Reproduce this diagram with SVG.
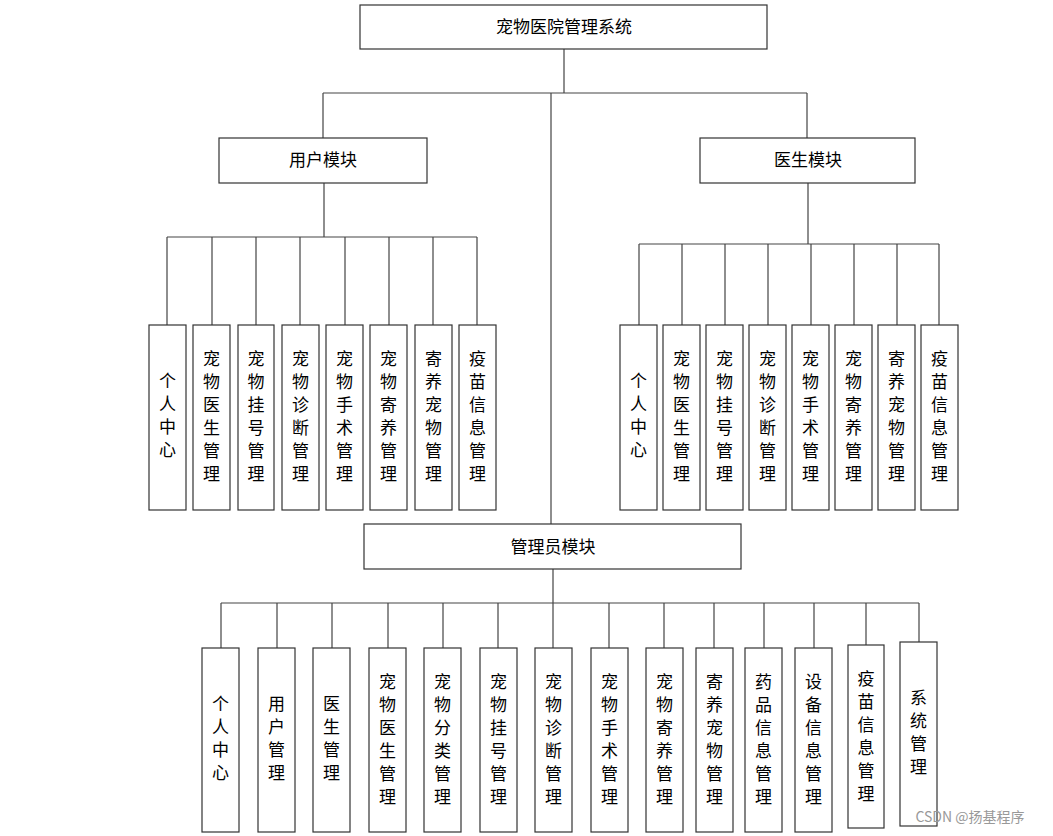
<svg xmlns="http://www.w3.org/2000/svg" width="1053" height="836" viewBox="0 0 1053 836">
<style>
rect{fill:#fff;stroke:#333;stroke-width:1.2}
text{font-family:"Noto Sans CJK SC",sans-serif;font-size:17px;fill:#000;text-anchor:middle}
#c path{fill:none;stroke:#444;stroke-width:1.2}
</style>
<rect x="0" y="0" width="1053" height="836" style="stroke:none"/>
<g id="c"><path d="M564 49V93M323 93H807M323 93V138M807 93V138M551 93V524M324 183V237M167 237H477M167 237V325M212 237V325M256 237V325M300 237V325M345 237V325M389 237V325M433 237V325M477 237V325M808 183V244M639 244H939M639 244V325M682 244V325M725 244V325M768 244V325M811 244V325M854 244V325M897 244V325M939 244V325M553 569V603M221 603H919M221 603V648M277 603V648M332 603V648M388 603V648M443 603V648M498 603V648M553 603V648M609 603V648M664 603V648M714 603V648M764 603V648M814 603V648M866 603V645M919 603V642"/></g>
<g id="root"><rect x="360" y="5" width="407" height="44"/><text x="564" y="33">宠物医院管理系统</text></g>
<g id="user"><rect x="219" y="138" width="208" height="45"/><text x="323" y="166">用户模块</text></g>
<g id="doctor"><rect x="700" y="138" width="215" height="45"/><text x="808" y="166">医生模块</text></g>
<g id="admin"><rect x="364" y="524" width="377" height="45"/><text x="553" y="553">管理员模块</text></g>
<g id="u1"><rect x="149" y="325" width="37" height="185"/><text x="167.5" y="387">个</text><text x="167.5" y="410">人</text><text x="167.5" y="433">中</text><text x="167.5" y="456">心</text></g>
<g id="u2"><rect x="193" y="325" width="37" height="185"/><text x="211.5" y="365">宠</text><text x="211.5" y="388">物</text><text x="211.5" y="411">医</text><text x="211.5" y="434">生</text><text x="211.5" y="457">管</text><text x="211.5" y="480">理</text></g>
<g id="u3"><rect x="238" y="325" width="36" height="185"/><text x="256" y="365">宠</text><text x="256" y="388">物</text><text x="256" y="411">挂</text><text x="256" y="434">号</text><text x="256" y="457">管</text><text x="256" y="480">理</text></g>
<g id="u4"><rect x="282" y="325" width="37" height="185"/><text x="300.5" y="365">宠</text><text x="300.5" y="388">物</text><text x="300.5" y="411">诊</text><text x="300.5" y="434">断</text><text x="300.5" y="457">管</text><text x="300.5" y="480">理</text></g>
<g id="u5"><rect x="326" y="325" width="37" height="185"/><text x="344.5" y="365">宠</text><text x="344.5" y="388">物</text><text x="344.5" y="411">手</text><text x="344.5" y="434">术</text><text x="344.5" y="457">管</text><text x="344.5" y="480">理</text></g>
<g id="u6"><rect x="370" y="325" width="37" height="185"/><text x="388.5" y="365">宠</text><text x="388.5" y="388">物</text><text x="388.5" y="411">寄</text><text x="388.5" y="434">养</text><text x="388.5" y="457">管</text><text x="388.5" y="480">理</text></g>
<g id="u7"><rect x="415" y="325" width="37" height="185"/><text x="433.5" y="365">寄</text><text x="433.5" y="388">养</text><text x="433.5" y="411">宠</text><text x="433.5" y="434">物</text><text x="433.5" y="457">管</text><text x="433.5" y="480">理</text></g>
<g id="u8"><rect x="459" y="325" width="37" height="185"/><text x="477.5" y="365">疫</text><text x="477.5" y="388">苗</text><text x="477.5" y="411">信</text><text x="477.5" y="434">息</text><text x="477.5" y="457">管</text><text x="477.5" y="480">理</text></g>
<g id="d1"><rect x="620" y="325" width="37" height="185"/><text x="638.5" y="387">个</text><text x="638.5" y="410">人</text><text x="638.5" y="433">中</text><text x="638.5" y="456">心</text></g>
<g id="d2"><rect x="663" y="325" width="37" height="185"/><text x="681.5" y="365">宠</text><text x="681.5" y="388">物</text><text x="681.5" y="411">医</text><text x="681.5" y="434">生</text><text x="681.5" y="457">管</text><text x="681.5" y="480">理</text></g>
<g id="d3"><rect x="706" y="325" width="37" height="185"/><text x="724.5" y="365">宠</text><text x="724.5" y="388">物</text><text x="724.5" y="411">挂</text><text x="724.5" y="434">号</text><text x="724.5" y="457">管</text><text x="724.5" y="480">理</text></g>
<g id="d4"><rect x="749" y="325" width="37" height="185"/><text x="767.5" y="365">宠</text><text x="767.5" y="388">物</text><text x="767.5" y="411">诊</text><text x="767.5" y="434">断</text><text x="767.5" y="457">管</text><text x="767.5" y="480">理</text></g>
<g id="d5"><rect x="792" y="325" width="37" height="185"/><text x="810.5" y="365">宠</text><text x="810.5" y="388">物</text><text x="810.5" y="411">手</text><text x="810.5" y="434">术</text><text x="810.5" y="457">管</text><text x="810.5" y="480">理</text></g>
<g id="d6"><rect x="835" y="325" width="37" height="185"/><text x="853.5" y="365">宠</text><text x="853.5" y="388">物</text><text x="853.5" y="411">寄</text><text x="853.5" y="434">养</text><text x="853.5" y="457">管</text><text x="853.5" y="480">理</text></g>
<g id="d7"><rect x="878" y="325" width="37" height="185"/><text x="896.5" y="365">寄</text><text x="896.5" y="388">养</text><text x="896.5" y="411">宠</text><text x="896.5" y="434">物</text><text x="896.5" y="457">管</text><text x="896.5" y="480">理</text></g>
<g id="d8"><rect x="921" y="325" width="37" height="185"/><text x="939.5" y="365">疫</text><text x="939.5" y="388">苗</text><text x="939.5" y="411">信</text><text x="939.5" y="434">息</text><text x="939.5" y="457">管</text><text x="939.5" y="480">理</text></g>
<g id="a1"><rect x="202" y="648" width="37" height="184"/><text x="220.5" y="710">个</text><text x="220.5" y="733">人</text><text x="220.5" y="756">中</text><text x="220.5" y="779">心</text></g>
<g id="a2"><rect x="258" y="648" width="37" height="184"/><text x="276.5" y="710">用</text><text x="276.5" y="733">户</text><text x="276.5" y="756">管</text><text x="276.5" y="779">理</text></g>
<g id="a3"><rect x="313" y="648" width="37" height="184"/><text x="331.5" y="710">医</text><text x="331.5" y="733">生</text><text x="331.5" y="756">管</text><text x="331.5" y="779">理</text></g>
<g id="a4"><rect x="369" y="648" width="37" height="184"/><text x="387.5" y="688">宠</text><text x="387.5" y="711">物</text><text x="387.5" y="734">医</text><text x="387.5" y="757">生</text><text x="387.5" y="780">管</text><text x="387.5" y="803">理</text></g>
<g id="a5"><rect x="424" y="648" width="37" height="184"/><text x="442.5" y="688">宠</text><text x="442.5" y="711">物</text><text x="442.5" y="734">分</text><text x="442.5" y="757">类</text><text x="442.5" y="780">管</text><text x="442.5" y="803">理</text></g>
<g id="a6"><rect x="480" y="648" width="37" height="184"/><text x="498.5" y="688">宠</text><text x="498.5" y="711">物</text><text x="498.5" y="734">挂</text><text x="498.5" y="757">号</text><text x="498.5" y="780">管</text><text x="498.5" y="803">理</text></g>
<g id="a7"><rect x="535" y="648" width="37" height="184"/><text x="553.5" y="688">宠</text><text x="553.5" y="711">物</text><text x="553.5" y="734">诊</text><text x="553.5" y="757">断</text><text x="553.5" y="780">管</text><text x="553.5" y="803">理</text></g>
<g id="a8"><rect x="591" y="648" width="37" height="184"/><text x="609.5" y="688">宠</text><text x="609.5" y="711">物</text><text x="609.5" y="734">手</text><text x="609.5" y="757">术</text><text x="609.5" y="780">管</text><text x="609.5" y="803">理</text></g>
<g id="a9"><rect x="646" y="648" width="37" height="184"/><text x="664.5" y="688">宠</text><text x="664.5" y="711">物</text><text x="664.5" y="734">寄</text><text x="664.5" y="757">养</text><text x="664.5" y="780">管</text><text x="664.5" y="803">理</text></g>
<g id="a10"><rect x="696" y="648" width="37" height="184"/><text x="714.5" y="688">寄</text><text x="714.5" y="711">养</text><text x="714.5" y="734">宠</text><text x="714.5" y="757">物</text><text x="714.5" y="780">管</text><text x="714.5" y="803">理</text></g>
<g id="a11"><rect x="745" y="648" width="37" height="184"/><text x="763.5" y="688">药</text><text x="763.5" y="711">品</text><text x="763.5" y="734">信</text><text x="763.5" y="757">息</text><text x="763.5" y="780">管</text><text x="763.5" y="803">理</text></g>
<g id="a12"><rect x="795" y="648" width="37" height="184"/><text x="813.5" y="688">设</text><text x="813.5" y="711">备</text><text x="813.5" y="734">信</text><text x="813.5" y="757">息</text><text x="813.5" y="780">管</text><text x="813.5" y="803">理</text></g>
<g id="a13"><rect x="848" y="645" width="36" height="183"/><text x="866" y="685">疫</text><text x="866" y="708">苗</text><text x="866" y="731">信</text><text x="866" y="754">息</text><text x="866" y="777">管</text><text x="866" y="800">理</text></g>
<g id="a14"><rect x="900" y="642" width="37" height="184"/><text x="918.5" y="704">系</text><text x="918.5" y="727">统</text><text x="918.5" y="750">管</text><text x="918.5" y="773">理</text></g>
<text x="970" y="822" style="font-size:14px;fill:#999">CSDN @扬基程序</text>
</svg>
